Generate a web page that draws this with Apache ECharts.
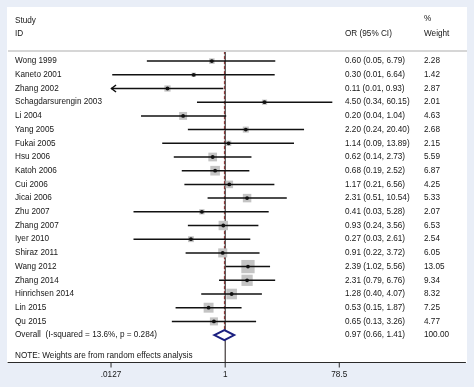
<!DOCTYPE html>
<html><head><meta charset="utf-8">
<script src="https://cdn.jsdelivr.net/npm/echarts@6/dist/echarts.min.js"></script>
<style>html,body{margin:0;padding:0;background:#e9eef7}#c{width:474px;height:387px}</style>
</head><body><div id="c"></div>
<script>
const studies = ['Wong 1999','Kaneto 2001','Zhang 2002','Schagdarsurengin 2003','Li 2004','Yang 2005','Fukai 2005','Hsu 2006','Katoh 2006','Cui 2006','Jicai 2006','Zhu 2007','Zhang 2007','Iyer 2010','Shiraz 2011','Wang 2012','Zhang 2014','Hinrichsen 2014','Lin 2015','Qu 2015'];
const oddsRatios = [0.60,0.30,0.11,4.50,0.20,2.20,1.14,0.62,0.68,1.17,2.31,0.41,0.93,0.27,0.91,2.39,2.31,1.28,0.53,0.65];
const lowerCI = [0.05,0.0133,0.011,0.34,0.04,0.24,0.09,0.14,0.19,0.21,0.51,0.03,0.24,0.03,0.22,1.02,0.79,0.40,0.15,0.13];
const upperCI = [6.79,6.64,0.93,60.15,1.04,20.40,13.89,2.73,2.52,6.56,10.54,5.28,3.56,2.61,3.72,5.56,6.76,4.07,1.87,3.26];
const weights = [2.28,1.42,2.87,2.01,4.63,2.68,2.15,5.59,6.87,4.25,5.33,2.07,6.53,2.54,6.05,13.05,9.34,8.32,7.25,4.77];
const overallLabel = 'Overall  (I-squared = 13.6%, p = 0.284)';
const overallValues = [0.97, 0.66, 1.41, 100.00];
const tickValues = [0.0127, 1, 78.5];
const tickLabels = ['.0127', '1', '78.5'];
const noteText = 'NOTE: Weights are from random effects analysis';

const FONT = "'Liberation Sans', Arial, Helvetica, sans-serif";
const FS = 8.2;
const TXT = '#161616';
const COL_STUDY = 15, COL_OR = 345, COL_W = 424;
const fmt = v => v.toFixed(2);
const ciText = (o, l, u) => fmt(o) + ' (' + fmt(l) + ', ' + fmt(u) + ')';

function txt(x, y, s, extra) {
  return { type: 'text', x: x, y: y, silent: true,
    style: Object.assign({ text: s, fill: TXT, font: FS + 'px ' + FONT, align: 'left', verticalAlign: 'middle' }, extra || {}) };
}

const nStudies = studies.length;
const studyRows = studies.map((s, i) => [i, oddsRatios[i], lowerCI[i], upperCI[i], weights[i]]);
const overallRow = nStudies;
const noteRow = nStudies + 1.48;
const axisRow = 22;
const sepRow = -0.73;

const chart = echarts.init(document.getElementById('c'), null, { renderer: 'canvas' });

const option = {
  backgroundColor: '#e9eef7',
  animation: false,
  grid: { left: 8, right: 8.5, top: 6.3, bottom: 24.5, containLabel: false },
  xAxis: {
    type: 'log', logBase: 10, min: 0.000247, max: 9800,
    axisLine: { show: true, onZero: false, lineStyle: { color: '#2a2a2a', width: 1 } },
    axisTick: { show: false }, axisLabel: { show: false }, splitLine: { show: false }
  },
  yAxis: {
    type: 'value', min: -4, max: axisRow, inverse: true, show: false,
    axisLine: { onZero: false }, splitLine: { show: false }
  },
  graphic: [
    { type: 'rect', z: -10, silent: true, shape: { x: 7, y: 7, width: 460, height: 356 }, style: { fill: '#ffffff' } }
  ],
  series: [
    { // header texts, separator
      type: 'custom', z: 3, clip: false,
      data: [[1, -3]],
      renderItem: function (params, api) {
        const yStudy = api.coord([1, -2.97])[1];
        const yID = api.coord([1, -2.02])[1];
        const yPct = api.coord([1, -3.1])[1];
        const ySep = api.coord([1, sepRow])[1];
        const yNote = api.coord([1, noteRow])[1];
        return { type: 'group', children: [
          { type: 'line', shape: { x1: 8, y1: ySep, x2: 467, y2: ySep }, style: { stroke: '#d6d6d6', lineWidth: 2 }, silent: true },
          txt(COL_STUDY, yStudy, 'Study'),
          txt(COL_STUDY, yID, 'ID'),
          txt(COL_OR, yID, 'OR (95% CI)'),
          txt(COL_W, yPct, '%'),
          txt(COL_W, yID, 'Weight'),
          txt(COL_STUDY, yNote, noteText)
        ]};
      }
    },
    { // reference lines
      type: 'custom', z: 2, clip: false,
      data: [[1, sepRow]],
      renderItem: function (params, api) {
        const p1 = api.coord([1, sepRow]);
        const p2 = api.coord([1, axisRow]);
        const q1 = api.coord([overallValues[0], sepRow]);
        const q2 = api.coord([overallValues[0], overallRow]);
        return { type: 'group', children: [
          { type: 'line', shape: { x1: q1[0], y1: q1[1], x2: q2[0], y2: q2[1] }, style: { stroke: '#b03030', lineWidth: 1, lineDash: [3, 2] }, silent: true },
          { type: 'line', shape: { x1: p1[0], y1: p1[1], x2: p2[0], y2: p2[1] }, style: { stroke: '#1a1010', lineWidth: 1 }, silent: true }
        ]};
      }
    },
    { // studies
      type: 'custom', z: 4, clip: false,
      data: studyRows,
      renderItem: function (params, api) {
        const i = api.value(0), o = api.value(1), lo = api.value(2), hi = api.value(3), w = api.value(4);
        const loC = Math.max(lo, tickValues[0]);
        const hiC = Math.min(hi, 1 / tickValues[0]);
        const pc = api.coord([o, i]);
        const pl = api.coord([loC, i]);
        const ph = api.coord([hiC, i]);
        const y = pc[1];
        const side = 3.68 * Math.sqrt(w);
        const ch = [
          { type: 'rect', shape: { x: pc[0] - side / 2, y: y - side / 2, width: side, height: side }, style: { fill: '#c4c4c4' }, silent: true },
          { type: 'line', shape: { x1: pl[0], y1: y, x2: ph[0], y2: y }, style: { stroke: '#111', lineWidth: 1.5 }, silent: true },
          { type: 'circle', shape: { cx: pc[0], cy: y, r: 1.9 }, style: { fill: '#111' }, silent: true },
          txt(COL_STUDY, y, studies[i]),
          txt(COL_OR, y, ciText(o, lo, hi)),
          txt(COL_W, y, fmt(w))
        ];
        if (lo < tickValues[0]) {
          ch.push({ type: 'polyline', shape: { points: [[pl[0] + 5, y - 3.5], [pl[0] + 0.5, y], [pl[0] + 5, y + 3.5]] }, style: { stroke: '#111', lineWidth: 1.5, fill: null }, silent: true });
        }
        if (hi > 1 / tickValues[0]) {
          ch.push({ type: 'polyline', shape: { points: [[ph[0] - 5, y - 3.5], [ph[0] - 0.5, y], [ph[0] - 5, y + 3.5]] }, style: { stroke: '#111', lineWidth: 1.5, fill: null }, silent: true });
        }
        return { type: 'group', children: ch };
      }
    },
    { // overall diamond
      type: 'custom', z: 5, clip: false,
      data: [[overallRow].concat(overallValues)],
      renderItem: function (params, api) {
        const r = api.value(0), o = api.value(1), lo = api.value(2), hi = api.value(3), w = api.value(4);
        const pc = api.coord([o, r]);
        const pl = api.coord([lo, r]);
        const ph = api.coord([hi, r]);
        const y = pc[1], h = 5;
        return { type: 'group', children: [
          { type: 'polygon', shape: { points: [[pl[0], y], [pc[0], y - h], [ph[0], y], [pc[0], y + h]] }, style: { stroke: '#1b2080', lineWidth: 2, fill: '#ffffff' }, silent: true },
          txt(COL_STUDY, y, overallLabel),
          txt(COL_OR, y, ciText(o, lo, hi)),
          txt(COL_W, y, fmt(w))
        ]};
      }
    },
    { // axis ticks
      type: 'custom', z: 5, clip: false,
      data: tickValues.map((v, i) => [v, axisRow, i]),
      renderItem: function (params, api) {
        const p = api.coord([api.value(0), api.value(1)]);
        const k = api.value(2);
        return { type: 'group', children: [
          { type: 'line', shape: { x1: p[0], y1: p[1], x2: p[0], y2: p[1] + 5 }, style: { stroke: '#2a2a2a', lineWidth: 1 }, silent: true },
          txt(p[0], p[1] + 12.5, tickLabels[k], { align: 'center' })
        ]};
      }
    }
  ]
};
chart.setOption(option);
</script>
</body></html>
